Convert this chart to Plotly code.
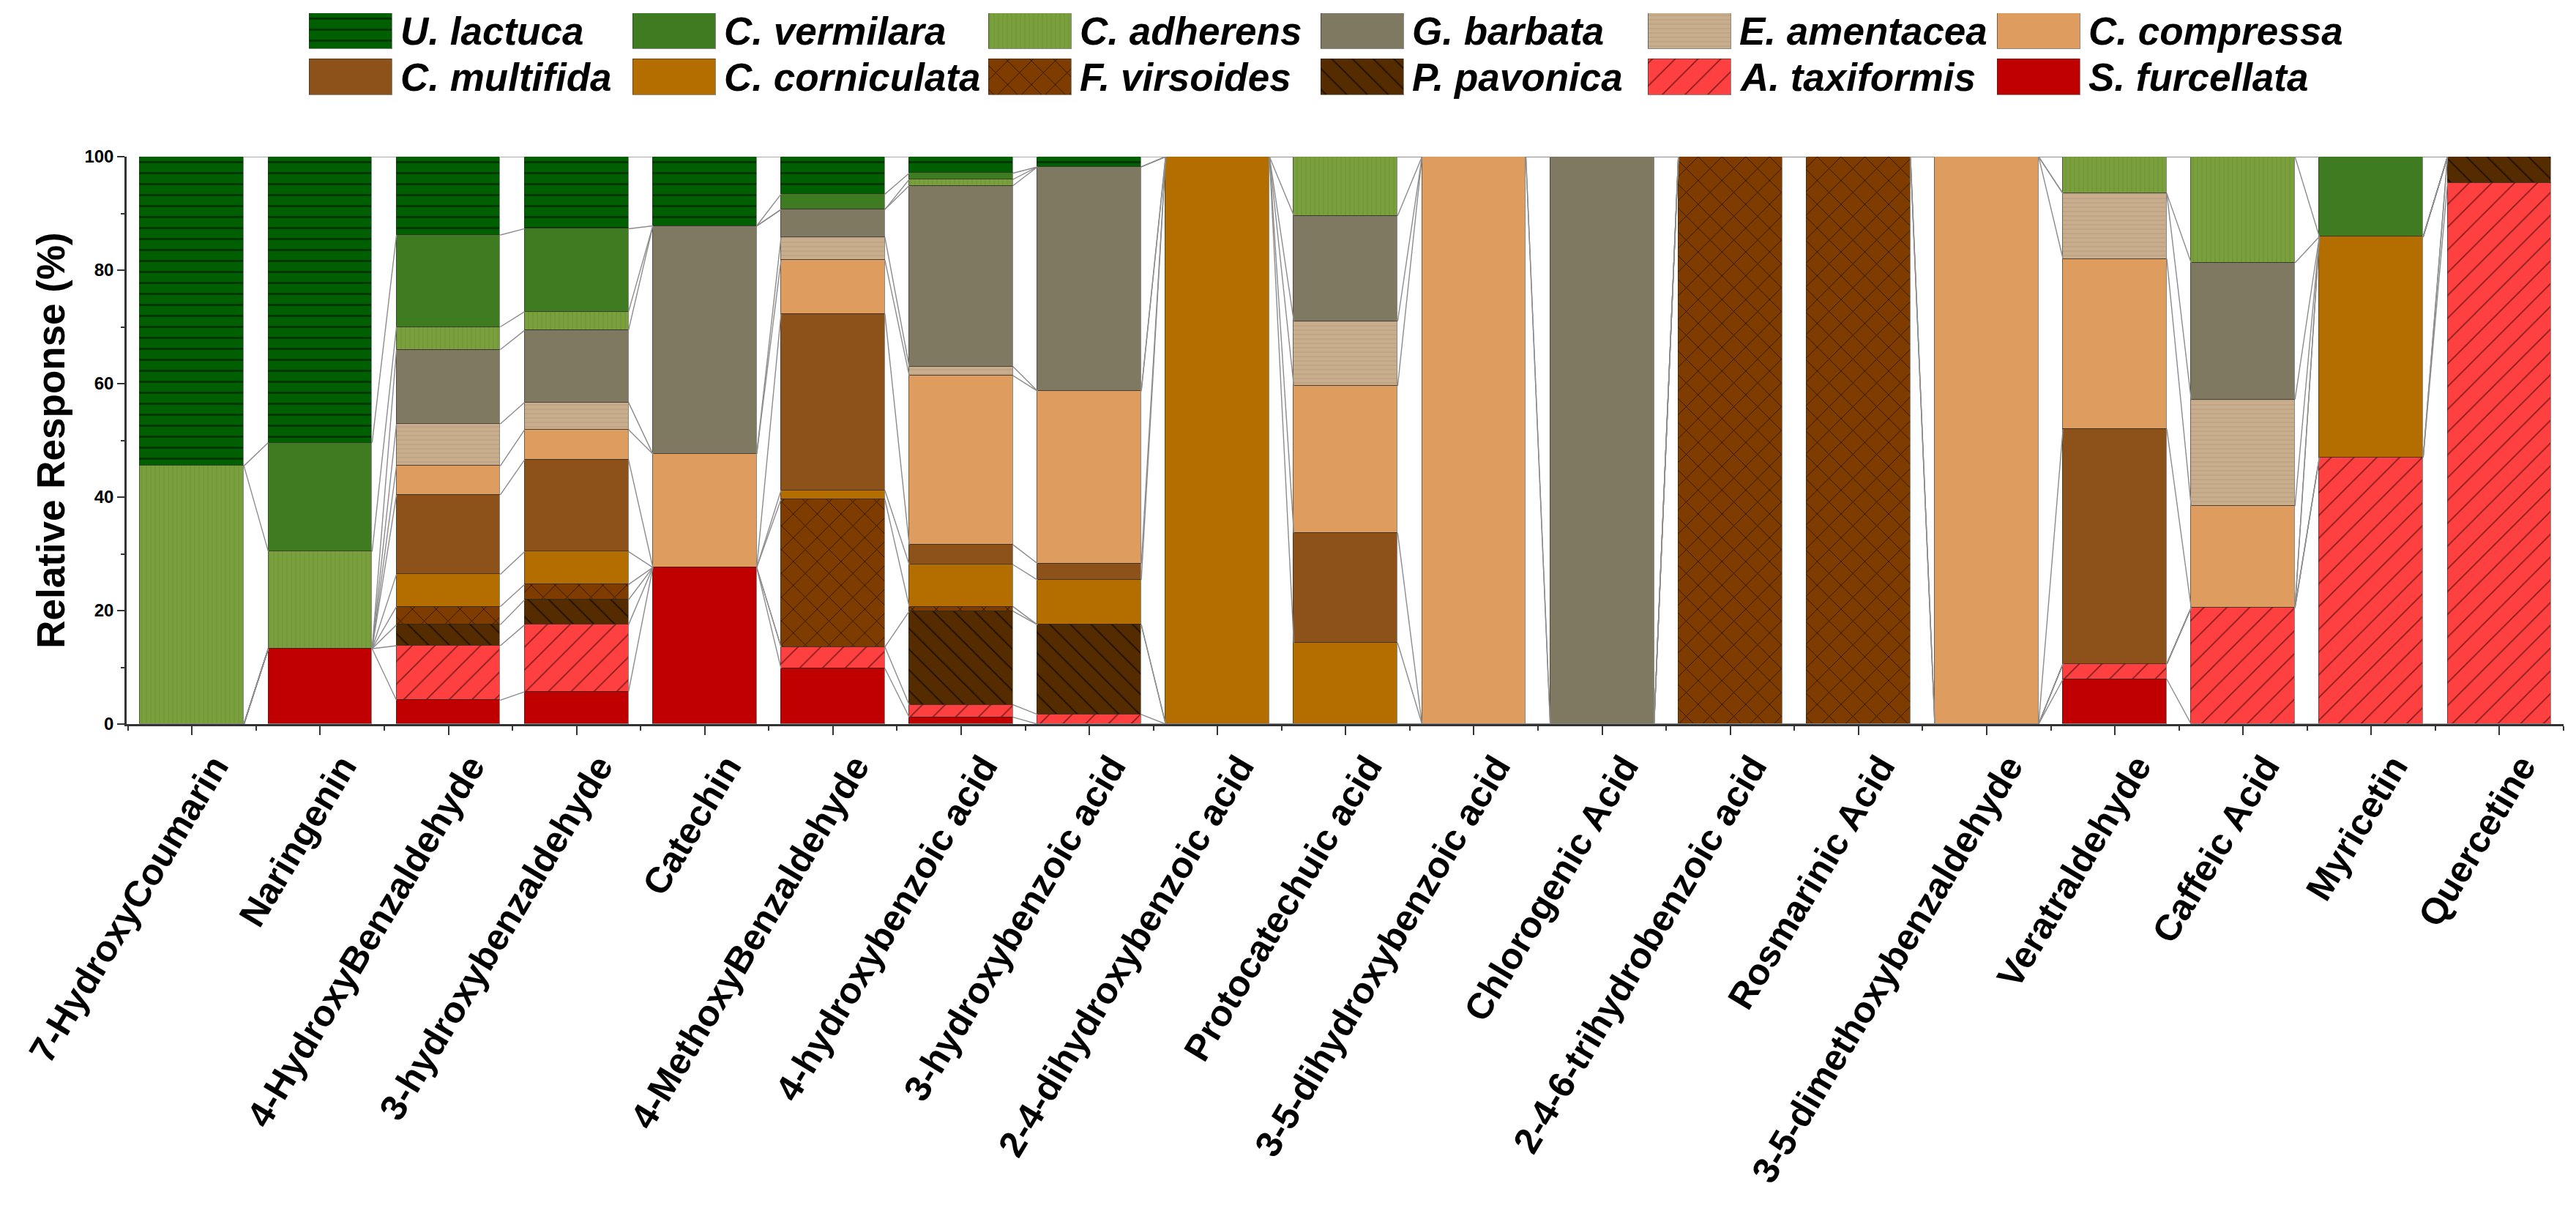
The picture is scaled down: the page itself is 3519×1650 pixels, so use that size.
import plotly.graph_objects as go

# ---------------- data ----------------
categories = [
    "7-HydroxyCoumarin", "Naringenin", "4-HydroxyBenzaldehyde", "3-hydroxybenzaldehyde",
    "Catechin", "4-MethoxyBenzaldehyde", "4-hydroxybenzoic acid", "3-hydroxybenzoic acid",
    "2-4-dihydroxybenzoic acid", "Protocatechuic acid", "3-5-dihydroxybenzoic acid",
    "Chlorogenic Acid", "2-4-6-trihydrobenzoic acid", "Rosmarinic Acid",
    "3-5-dimethoxybenzaldehyde", "Veratraldehyde", "Caffeic Acid", "Myricetin", "Quercetine",
]

S_furcellata   = [0, 13.3, 4.2, 5.7, 27.6, 9.8, 1.2, 0, 0, 0, 0, 0, 0, 0, 0, 7.9, 0, 0, 0]
A_taxiformis   = [0, 0, 9.6, 11.8, 0, 3.8, 2.2, 1.7, 0, 0, 0, 0, 0, 0, 0, 2.7, 20.5, 47.0, 95.4]
P_pavonica     = [0, 0, 3.7, 4.4, 0, 0, 16.5, 15.8, 0, 0, 0, 0, 0, 0, 0, 0, 0, 0, 4.6]
F_virsoides    = [0, 0, 3.2, 2.7, 0, 26.0, 0.8, 0, 0, 0, 0, 0, 100, 100, 0, 0, 0, 0, 0]
C_corniculata  = [0, 0, 5.7, 5.8, 0, 1.6, 7.4, 7.9, 100, 14.3, 0, 0, 0, 0, 0, 0, 0, 38.9, 0]
C_multifida    = [0, 0, 14.0, 16.2, 0, 31.1, 3.5, 2.9, 0, 19.4, 0, 0, 0, 0, 0, 41.4, 0, 0, 0]
C_compressa    = [0, 0, 5.1, 5.3, 20.0, 9.5, 29.8, 30.4, 0, 25.9, 100, 0, 0, 0, 100, 30.0, 17.9, 0, 0]
E_amentacea    = [0, 0, 7.4, 4.8, 0, 4.0, 1.6, 0, 0, 11.4, 0, 0, 0, 0, 0, 11.5, 18.8, 0, 0]
G_barbata      = [0, 0, 13.1, 12.7, 40.2, 4.9, 31.9, 39.5, 0, 18.6, 0, 100, 0, 0, 0, 0, 24.1, 0, 0]
C_adherens     = [45.5, 17.1, 4.0, 3.3, 0, 0, 1.1, 0, 0, 10.4, 0, 0, 0, 0, 0, 6.5, 18.7, 0, 0]
C_vermilara    = [0, 19.2, 16.2, 14.6, 0, 2.7, 1.1, 0, 0, 0, 0, 0, 0, 0, 0, 0, 0, 14.1, 0]
U_lactuca      = [54.5, 50.4, 13.8, 12.7, 12.2, 6.6, 2.9, 1.8, 0, 0, 0, 0, 0, 0, 0, 0, 0, 0, 0]

# stacking order, bottom -> top
series = [
    ("S. furcellata", S_furcellata),
    ("A. taxiformis", A_taxiformis),
    ("P. pavonica", P_pavonica),
    ("F. virsoides", F_virsoides),
    ("C. corniculata", C_corniculata),
    ("C. multifida", C_multifida),
    ("C. compressa", C_compressa),
    ("E. amentacea", E_amentacea),
    ("G. barbata", G_barbata),
    ("C. adherens", C_adherens),
    ("C. vermilara", C_vermilara),
    ("U. lactuca", U_lactuca),
]

legend_order = [
    "U. lactuca", "C. vermilara", "C. adherens", "G. barbata", "E. amentacea", "C. compressa",
    "C. multifida", "C. corniculata", "F. virsoides", "P. pavonica", "A. taxiformis", "S. furcellata",
]

# ---------------- styles ----------------
STYLES = {
    "U. lactuca":     dict(color="#005F00", shape="-",  fg="#003300", size=15, sol=0.18),
    "C. vermilara":   dict(color="#3F7C21", shape="",   fg="#3F7C21", size=8,  sol=0.2),
    "C. adherens":    dict(color="#7AA03E", shape="|",  fg="#729837", size=6,  sol=0.3),
    "G. barbata":     dict(color="#7F7962", shape="",   fg="#7F7962", size=8,  sol=0.2),
    "E. amentacea":   dict(color="#C9AE8E", shape="-",  fg="#BFA385", size=6,  sol=0.3),
    "C. compressa":   dict(color="#DE9D5E", shape="",   fg="#DE9D5E", size=8,  sol=0.2),
    "C. multifida":   dict(color="#8C521A", shape="",   fg="#8C521A", size=8,  sol=0.2),
    "C. corniculata": dict(color="#B46E00", shape="",   fg="#B46E00", size=8,  sol=0.2),
    "F. virsoides":   dict(color="#7E3C00", shape="x",  fg="#2E1400", size=23, sol=0.08),
    "P. pavonica":    dict(color="#552B00", shape="\\", fg="#251200", size=20, sol=0.1),
    "A. taxiformis":  dict(color="#FF4040", shape="/",  fg="#8A1C1C", size=22, sol=0.08),
    "S. furcellata":  dict(color="#C00000", shape="",   fg="#C00000", size=8,  sol=0.2),
}

BAR_W = 0.81
FONT = "Liberation Sans, Arial, sans-serif"


def marker_for(name):
    st = STYLES[name]
    return dict(
        color=st["color"],
        line=dict(color="rgba(40,40,40,0.55)", width=1.2),
        pattern=dict(shape=st["shape"], fgcolor=st["fg"], bgcolor=st["color"],
                     size=st["size"], solidity=st["sol"], fillmode="replace"),
    )


fig = go.Figure()
xs = list(range(len(categories)))

# connecting lines between stacked segment tops
cum = [0.0] * len(categories)
lx, ly = [], []
for name, vals in series:
    cum = [c + v for c, v in zip(cum, vals)]
    for i in range(len(categories) - 1):
        lx += [xs[i] + BAR_W / 2, xs[i + 1] - BAR_W / 2, None]
        ly += [cum[i], cum[i + 1], None]
fig.add_trace(go.Scatter(x=lx, y=ly, mode="lines", line=dict(color="#8C8C8C", width=1.4),
                         hoverinfo="skip", showlegend=False))

for name, vals in series:
    fig.add_trace(go.Bar(
        x=xs, y=[v if v > 0 else None for v in vals], name=name, width=BAR_W,
        marker=marker_for(name), showlegend=False,
    ))

# ---------------- manual legend (large swatches) ----------------
LEG_COL_X = [423, 865, 1351, 1805, 2252, 2729]   # pixel left of swatches
LEG_ROW_TOP = [18, 81]
SW_W, SW_H = 113, 49
for k, name in enumerate(legend_order):
    r, c = divmod(k, 6)
    x0 = LEG_COL_X[c]
    fig.add_trace(go.Bar(
        x=[x0 + SW_W / 2], y=[SW_H], base=[LEG_ROW_TOP[r]], width=[SW_W],
        xaxis="x2", yaxis="y2", marker=marker_for(name), showlegend=False, hoverinfo="skip",
    ))
    fig.add_annotation(
        x=x0 + SW_W + 9, y=LEG_ROW_TOP[r] + SW_H / 2, xref="x2", yref="y2",
        text=name, showarrow=False, xanchor="left", yanchor="middle",
        font=dict(family=FONT, size=53, color="black", weight="bold", style="italic"),
    )

H, Wd = 1650, 3519
ML, MR, MT, MB = 173, 17, 0, 661
ph = H - MT - MB
main_top = (989 - 214) / ph

fig.update_layout(
    width=Wd, height=H,
    margin=dict(l=ML, r=MR, t=MT, b=MB, autoexpand=False),
    paper_bgcolor="white", plot_bgcolor="white",
    barmode="stack", bargap=0,
    font=dict(family=FONT, color="black"),
    xaxis=dict(
        domain=[0, 1], range=[-0.51, 18.5], tickmode="array", tickvals=xs, ticktext=categories,
        tickangle=-59, tickfont=dict(family=FONT, size=50, weight="bold", color="black"),
        ticklabeloverflow="allow", automargin=False,
        ticklabelshift=30, ticklabelstandoff=-6,
        ticks="outside", ticklen=12, tickwidth=2, tickcolor="#333",
        showline=True, linecolor="#333", linewidth=2.5, showgrid=False, zeroline=False,
        minor=dict(tickmode="array", tickvals=[i - 0.5 for i in range(len(categories) + 1)],
                   ticks="outside", ticklen=6, tickwidth=2, tickcolor="#333", showgrid=False),
        anchor="y",
    ),
    yaxis=dict(
        domain=[0, main_top], range=[0, 100], tickmode="linear", tick0=0, dtick=20,
        tickfont=dict(family=FONT, size=24, weight="bold", color="black"),
        automargin=False,
        ticks="outside", ticklen=10, tickwidth=2, tickcolor="#333",
        showline=True, linecolor="#333", linewidth=2.5, showgrid=False, zeroline=False,
        minor=dict(dtick=10, ticks="outside", ticklen=5, tickwidth=2, tickcolor="#333", showgrid=False),
        title=dict(text="Relative Response (%)", standoff=10,
                   font=dict(family=FONT, size=53, weight="bold", color="black")),
        anchor="x",
    ),
    xaxis2=dict(domain=[0, 1], range=[ML, Wd - MR], visible=False, fixedrange=True, anchor="y2"),
    yaxis2=dict(domain=[(989 - 130) / ph, (989 - 18) / ph], range=[130, 18], visible=False,
                fixedrange=True, anchor="x2"),
)

fig.write_html("out.html")
